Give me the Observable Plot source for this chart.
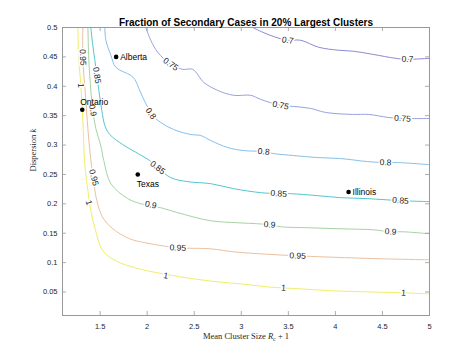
<!DOCTYPE html>
<html><head><meta charset="utf-8">
<script src="https://cdn.jsdelivr.net/npm/d3@7"></script>
<script src="https://cdn.jsdelivr.net/npm/@observablehq/plot@0.6"></script>
<style>body{margin:0;background:#fff} svg{display:block}</style>
</head><body><div id="chart"></div>
<script>
// contour levels and colours (parula-like, as thin light lines)
const levels = [0.7, 0.75, 0.8, 0.85, 0.9, 0.95, 1];
const levelColors = ["#8c8ad2", "#98a2de", "#86c0ea", "#55c6cf", "#a6d2a4", "#e9c1a2", "#f0ee66"];

// contour lines: [mean cluster size, dispersion k]
const c070 = [[3.121,0.5],[3.227,0.492],[3.365,0.4834],[3.493,0.4783],[3.631,0.4783],[3.822,0.4664],[4.034,0.4613],[4.193,0.4596],[4.395,0.4544],[4.639,0.4476],[4.766,0.4459],[5.0,0.4476]];
const c075 = [[1.985,0.5],[2.038,0.4783],[2.112,0.4578],[2.25,0.4374],[2.378,0.4288],[2.484,0.4288],[2.601,0.4067],[2.749,0.393],[2.919,0.3846],[3.1,0.3846],[3.206,0.3777],[3.418,0.3674],[3.556,0.3657],[3.737,0.3623],[3.896,0.3555],[4.183,0.3521],[4.352,0.3521],[4.565,0.3469],[4.713,0.3452],[5.0,0.3452]];
const c080 = [[1.55,0.5],[1.561,0.4783],[1.614,0.4527],[1.667,0.4323],[1.825,0.4186],[1.868,0.4118],[1.911,0.3965],[1.953,0.3811],[2.006,0.364],[2.038,0.3538],[2.144,0.3384],[2.282,0.3264],[2.463,0.3179],[2.569,0.3162],[2.675,0.3077],[2.856,0.2957],[3.025,0.2906],[3.238,0.2889],[3.344,0.2855],[3.556,0.2821],[3.811,0.2787],[4.055,0.277],[4.342,0.2719],[4.533,0.2702],[4.66,0.2702],[5.0,0.2667]];
const c085 = [[1.401,0.5],[1.422,0.4698],[1.444,0.4442],[1.465,0.4186],[1.486,0.393],[1.518,0.3589],[1.55,0.3333],[1.603,0.3179],[1.741,0.3008],[1.921,0.2838],[2.027,0.2736],[2.112,0.2616],[2.25,0.2446],[2.431,0.2377],[2.675,0.2343],[2.919,0.2258],[3.206,0.219],[3.397,0.2173],[3.524,0.2173],[3.811,0.2139],[4.055,0.2105],[4.342,0.2088],[4.692,0.2054],[5.0,0.2037]];
const c090 = [[1.37,0.5],[1.38,0.4442],[1.401,0.393],[1.422,0.3589],[1.454,0.3281],[1.507,0.2991],[1.539,0.2736],[1.614,0.2343],[1.794,0.2088],[1.932,0.2002],[2.038,0.1968],[2.144,0.1934],[2.325,0.1849],[2.675,0.1712],[2.962,0.1678],[3.174,0.1661],[3.301,0.1644],[3.418,0.161],[3.737,0.1592],[4.055,0.1575],[4.406,0.1558],[4.586,0.1524],[4.724,0.1524],[5.0,0.149]];
const c095 = [[1.316,0.5],[1.316,0.4493],[1.348,0.3759],[1.38,0.3077],[1.422,0.248],[1.465,0.2054],[1.529,0.1764],[1.635,0.1575],[1.815,0.1405],[1.985,0.1336],[2.166,0.1285],[2.325,0.1251],[2.675,0.1234],[2.919,0.1183],[3.206,0.1149],[3.599,0.1115],[4.161,0.1081],[4.512,0.1064],[5.0,0.1047]];
const c100 = [[1.263,0.5],[1.274,0.4442],[1.295,0.4014],[1.316,0.3418],[1.338,0.265],[1.37,0.2224],[1.401,0.1883],[1.444,0.1592],[1.529,0.12],[1.667,0.103],[1.879,0.0909],[2.166,0.0809],[2.495,0.0724],[2.749,0.0672],[2.994,0.0638],[3.28,0.0587],[3.631,0.0553],[3.981,0.0519],[4.342,0.0502],[4.724,0.0485],[5.0,0.0468]];
const contours = [c070, c075, c080, c085, c090, c095, c100];

// inline contour labels: [x, k, angle along the line]
const lab070 = [[3.493,0.4783,8],[4.766,0.4459,2]];
const lab075 = [[2.25,0.4374,35],[3.418,0.3674,12],[4.713,0.3452,3]];
const lab080 = [[2.038,0.3538,55],[3.238,0.2889,5],[4.533,0.2702,3]];
const lab085 = [[1.465,0.4186,82],[2.112,0.2616,38],[3.397,0.2173,4],[4.692,0.2054,4]];
const lab090 = [[1.422,0.3589,80],[2.038,0.1985,12],[3.301,0.1644,4],[4.586,0.1524,4]];
const lab095 = [[1.316,0.4493,88],[1.433,0.2446,75],[2.325,0.1251,3],[3.599,0.1115,3]];
const lab100 = [[1.295,0.4014,87],[1.38,0.2019,72],[2.197,0.0775,10],[3.45,0.057,4],[4.724,0.0485,3]];
const contourLabels = [lab070, lab075, lab080, lab085, lab090, lab095, lab100];

// regions
const regions = ["Alberta", "Ontario", "Texas", "Illinois"];
const regionX = [1.67, 1.31, 1.90, 4.14];
const regionK = [0.45, 0.36, 0.25, 0.22];

// ticks
const xTicks = [1.5, 2, 2.5, 3, 3.5, 4, 4.5, 5];
const yTicks = [0.05, 0.1, 0.15, 0.2, 0.25, 0.3, 0.35, 0.4, 0.45, 0.5];

const lineRows = levels.flatMap((lv, i) => contours[i].map(([x, y]) => ({x, y, level: lv})));
const labelRows = levels.flatMap((lv, i) => contourLabels[i].map(([x, y, a]) => ({x, y, angle: a, level: lv, text: String(lv)})));
const regionRows = regions.map((name, i) => ({name, x: regionX[i], y: regionK[i]}));

const W = 474, H = 355, mL = 62, mR = 45, mT = 27, mB = 40;
const pw = W - mL - mR, ph = H - mT - mB;
const font = "'Liberation Sans', Arial, Helvetica, sans-serif";
const tickLen = 4;

const plot = Plot.plot({
  width: W, height: H,
  marginLeft: mL, marginRight: mR, marginTop: mT, marginBottom: mB,
  style: {fontFamily: font, background: "#fff", color: "#262626"},
  x: {domain: [1.1, 5]},
  y: {domain: [0.01, 0.5]},
  color: {type: "ordinal", domain: levels, range: levelColors},
  marks: [
    Plot.line(lineRows, {x: "x", y: "y", z: "level", stroke: "level", strokeWidth: 1, curve: "catmull-rom"}),
    Plot.text(labelRows, {x: "x", y: "y", text: "text", rotate: "angle", fontSize: 8.5, fill: "#1a1a1a", stroke: "white", strokeWidth: 3, paintOrder: "stroke"}),
    Plot.dot(regionRows, {x: "x", y: "y", r: 2.3, fill: "black"}),
    Plot.text(regionRows.filter(d => d.name === "Alberta"), {x: "x", y: "y", text: "name", textAnchor: "start", dx: 4, fontSize: 8.5, fill: "black"}),
    Plot.text(regionRows.filter(d => d.name === "Illinois"), {x: "x", y: "y", text: "name", textAnchor: "start", dx: 4, fontSize: 8.5, fill: "black"}),
    Plot.text(regionRows.filter(d => d.name === "Ontario"), {x: "x", y: "y", text: "name", textAnchor: "start", dx: -2, dy: -8, fontSize: 8.5, fill: "black"}),
    Plot.text(regionRows.filter(d => d.name === "Texas"), {x: "x", y: "y", text: "name", textAnchor: "start", dx: -1, dy: 10, fontSize: 8.5, fill: "black"}),
    // inward ticks on all four sides
    Plot.ruleX(xTicks, {x: d => d, insetTop: ph - tickLen, stroke: "#999", strokeWidth: 0.8}),
    Plot.ruleX(xTicks, {x: d => d, insetBottom: ph - tickLen, stroke: "#999", strokeWidth: 0.8}),
    Plot.ruleY(yTicks, {y: d => d, insetRight: pw - tickLen, stroke: "#999", strokeWidth: 0.8}),
    Plot.ruleY(yTicks, {y: d => d, insetLeft: pw - tickLen, stroke: "#999", strokeWidth: 0.8}),
    Plot.frame({stroke: "#999", strokeWidth: 1}),
    Plot.axisX({ticks: xTicks, tickSize: 0, tickPadding: 8, fontSize: 7.5, label: null, fill: "#262626", tickFormat: d => String(d)}),
    Plot.axisY({ticks: yTicks, tickSize: 0, tickPadding: 5, fontSize: 7.5, label: null, fill: "#262626", tickFormat: d => String(d)}),
    Plot.text(["Fraction of Secondary Cases in 20% Largest Clusters"], {frameAnchor: "top", dy: -9, fontSize: 10, fontWeight: "bold", fill: "black", text: d => d}),
    Plot.text(["Mean Cluster Size R_c + 1"], {frameAnchor: "bottom", dy: 23, fontSize: 8.5, fill: "#262626", text: d => d, fontFamily: "'Liberation Serif', 'Times New Roman', serif", className: "xlab"}),
    Plot.text(["Dispersion k"], {frameAnchor: "left", dx: -29, rotate: -90, fontSize: 8.5, fill: "#262626", text: d => d, fontFamily: "'Liberation Serif', 'Times New Roman', serif", className: "ylab"})
  ]
});
document.getElementById("chart").appendChild(plot);

// math-style formatting of axis labels (italic symbols, subscript)
const xl = d3.select(plot).select(".xlab text");
xl.text(null);
xl.append("tspan").text("Mean Cluster Size ");
xl.append("tspan").attr("font-style", "italic").text("R");
xl.append("tspan").attr("font-size", 6).attr("dy", 2).text("c");
xl.append("tspan").attr("dy", -2).text(" + 1");
const yl = d3.select(plot).select(".ylab text");
yl.text(null);
yl.append("tspan").text("Dispersion ");
yl.append("tspan").attr("font-style", "italic").text("k");
</script>
</body></html>
